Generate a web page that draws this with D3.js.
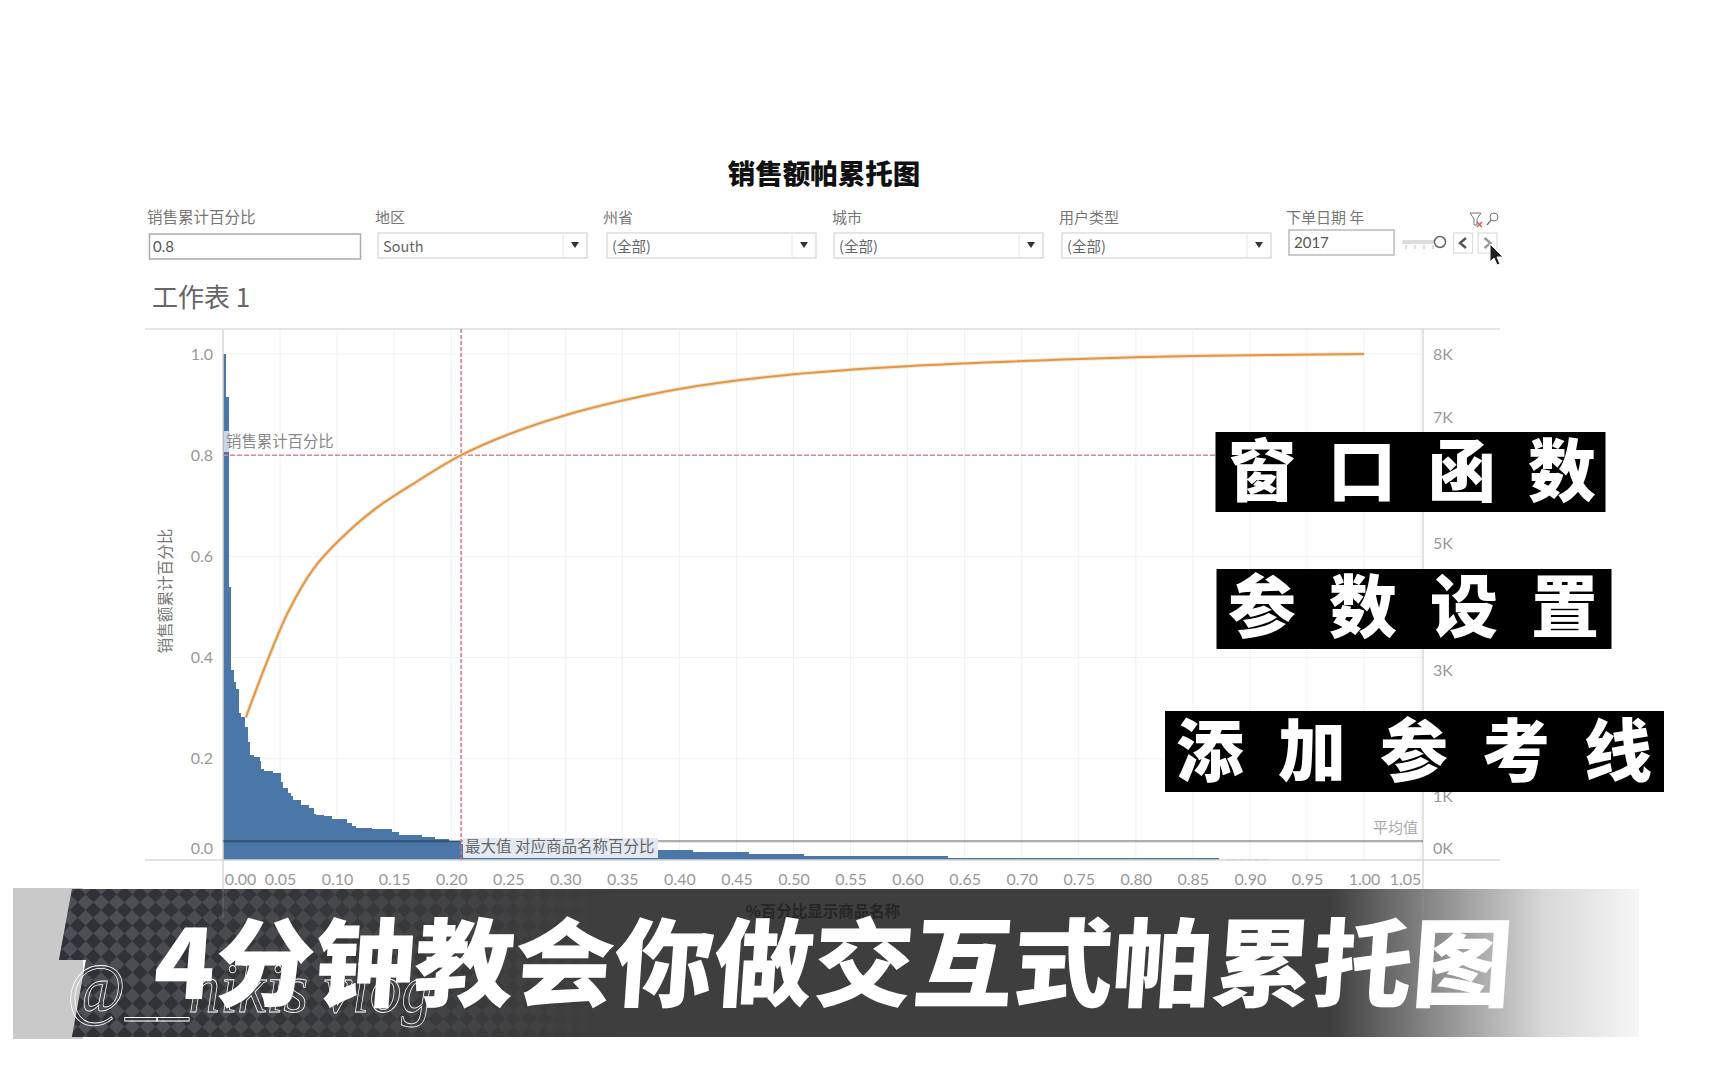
<!DOCTYPE html>
<html>
<head>
<meta charset="utf-8">
<script src="https://cdn.jsdelivr.net/npm/d3@7"></script>
<style>
	html, body { margin: 0; padding: 0; background: #fff; }
	svg { display: block; }
	text { font-family: "Noto Sans CJK SC", sans-serif; }
	.num { font-family: Lato, "Open Sans", sans-serif; }
	.axis .domain, .axis line { display: none; }
	.axis text { font-family: Lato, "Open Sans", sans-serif; font-size: 16px; fill: #999; }
</style>
</head>
<body>
<svg id="chart" width="1728" height="1080"></svg>
<script>
// right edge of each bar on the product share axis
const BAR_EDGES = [0.0023, 0.0049, 0.0073, 0.0093, 0.0116, 0.0137, 0.016, 0.0189, 0.0218, 0.0238,
	0.0276, 0.032, 0.0337, 0.0363, 0.0436, 0.0509, 0.0529, 0.0567, 0.0596, 0.0616,
	0.0683, 0.0756, 0.0799, 0.0814, 0.0887, 0.0959, 0.109, 0.1134, 0.1163, 0.1308,
	0.1483, 0.1541, 0.1744, 0.186, 0.1977, 0.2084, 0.25, 0.30, 0.35, 0.381,
	0.412, 0.461, 0.509, 0.635, 0.873];
const BAR_SALES = [8000, 7320, 4310, 3000, 2810, 2700, 2320, 2265, 2105, 1865,
	1665, 1630, 1570, 1440, 1400, 1370, 1230, 1145, 1065, 1010,
	945, 870, 815, 735, 705, 690, 650, 590, 535, 510,
	490, 440, 390, 360, 335, 305, 255, 225, 200, 175,
	160, 130, 95, 65, 30];
const TAIL_EDGES = [0.879, 0.884, 0.891, 0.897, 0.904, 0.911];

const CURVE_X = [0.0201, 0.0384, 0.0573, 0.0791, 0.10, 0.1328, 0.1706, 0.2087,
	0.25, 0.30, 0.35, 0.40, 0.50, 0.60, 0.75, 0.85, 1.0];
const CURVE_Y = [0.282, 0.391, 0.491, 0.575, 0.628, 0.693, 0.749, 0.8,
	0.841, 0.879, 0.908, 0.931, 0.96, 0.976, 0.99, 0.996, 1.0];

const X_TICKS = [0, 0.05, 0.10, 0.15, 0.20, 0.25, 0.30, 0.35, 0.40, 0.45, 0.50, 0.55, 0.60, 0.65, 0.70, 0.75, 0.80, 0.85, 0.90, 0.95, 1.00, 1.05];
const LEFT_TICKS = [0, 0.2, 0.4, 0.6, 0.8, 1.0];
const RIGHT_TICKS = [0, 1000, 2000, 3000, 4000, 5000, 6000, 7000, 8000];

const REF_X = 0.2087;
const REF_Y = 0.8;
const AVG_SALES = 300;

const FILTER_LABELS = ['地区', '州省', '城市', '用户类型'];
const FILTER_VALUES = ['South', '(全部)', '(全部)', '(全部)'];

const CAPTIONS = ['窗口函数', '参数设置', '添加参考线'];
const BANNER_TITLE = '4分钟教会你做交互式帕累托图';

const svg = d3.select('#chart');
const defs = svg.append('defs');

// plot geometry
const LEFT = 223, RIGHT = 1423, TOP = 329, BASE = 860;
const x = d3.scaleLinear().domain([0, 1]).range([LEFT, 1364]);
const yShare = d3.scaleLinear().domain([0, 1]).range([BASE, 354]);
const ySales = d3.scaleLinear().domain([0, 8000]).range([BASE, 354]);

function label(g, px, py, str, size, fill, anchor) {
	return g.append('text')
		.attr('x', px).attr('y', py)
		.attr('dy', '0.35em')
		.attr('text-anchor', anchor || 'start')
		.attr('font-size', size)
		.attr('fill', fill)
		.text(str);
}

function drawHeader() {
	const g = svg.append('g');
	label(g, 824, 174, '销售额帕累托图', 27.5, '#111', 'middle').attr('font-weight', 900);

	// parameter input
	label(g, 147, 218, '销售累计百分比', 15.5, '#777');
	g.append('rect').attr('x', 149.5).attr('y', 234).attr('width', 211).attr('height', 25)
		.attr('fill', '#fff').attr('stroke', '#aaa').attr('stroke-width', 1.5);
	label(g, 153, 247, '0.8', 15, '#555').attr('class', 'num');

	// dropdown filters
	const boxX = [378, 607, 834, 1062];
	const labelX = [375, 603, 832, 1059];
	FILTER_LABELS.forEach((name, i) => {
		const bx = boxX[i], w = 209;
		label(g, labelX[i], 218, name, 15, '#777');
		g.append('rect').attr('x', bx).attr('y', 233).attr('width', w).attr('height', 25)
			.attr('fill', '#fff').attr('stroke', '#ddd').attr('stroke-width', 1.5);
		g.append('line').attr('x1', bx + w - 24).attr('x2', bx + w - 24).attr('y1', 233).attr('y2', 258)
			.attr('stroke', '#e4e4e4');
		g.append('path').attr('transform', `translate(${bx + w - 12},245)`)
			.attr('d', 'M-4,-3L4,-3L0,3Z').attr('fill', '#333');
		label(g, bx + 5, 247, FILTER_VALUES[i], 14.5, '#666');
	});

	// year slider
	label(g, 1286, 218, '下单日期 年', 15, '#777');
	g.append('rect').attr('x', 1289).attr('y', 230).attr('width', 105).attr('height', 25)
		.attr('fill', '#fff').attr('stroke', '#bbb').attr('stroke-width', 1.5);
	label(g, 1294, 243, '2017', 15, '#555').attr('class', 'num');
	g.append('rect').attr('x', 1402).attr('y', 240).attr('width', 33).attr('height', 4).attr('fill', '#ddd');
	g.selectAll('.slider-tick').data([0, 1, 2, 3]).enter().append('line')
		.attr('x1', (d) => 1406 + d * 9).attr('x2', (d) => 1406 + d * 9)
		.attr('y1', 245).attr('y2', 249).attr('stroke', '#bbb');
	g.append('circle').attr('cx', 1440).attr('cy', 242).attr('r', 5.5)
		.attr('fill', '#fff').attr('stroke', '#666').attr('stroke-width', 1.5);

	[1453.5, 1478].forEach((bx, i) => {
		g.append('rect').attr('x', bx).attr('y', 233).attr('width', 19).attr('height', 20)
			.attr('fill', '#fff').attr('stroke', '#ddd').attr('stroke-width', 1.2);
		const d = i === 0 ? 'M3,-5L-3,0L3,5' : 'M-3,-5L3,0L-3,5';
		g.append('path').attr('transform', `translate(${bx + 9.5},243)`).attr('d', d)
			.attr('fill', 'none').attr('stroke', i === 0 ? '#555' : '#999').attr('stroke-width', 2.4);
	});

	// filter and search icons
	g.append('path').attr('d', 'M1470,213L1481,213L1477,219L1477,225L1474,225L1474,219Z')
		.attr('fill', 'none').attr('stroke', '#777');
	g.append('path').attr('d', 'M1477,222L1482,227M1482,222L1477,227').attr('stroke', '#d05050').attr('stroke-width', 1.2);
	g.append('circle').attr('cx', 1494).attr('cy', 217).attr('r', 4).attr('fill', 'none').attr('stroke', '#777');
	g.append('line').attr('x1', 1491).attr('y1', 220).attr('x2', 1487).attr('y2', 225).attr('stroke', '#777').attr('stroke-width', 1.3);

	// mouse cursor
	g.append('path').attr('transform', 'translate(1490,244)')
		.attr('d', 'M0,0L0,18L4,14L7,21L10,20L7,13L13,13Z')
		.attr('fill', '#222').attr('stroke', '#fff');

	label(g, 152, 298, '工作表 1', 26, '#666');
}

function drawPlot() {
	const g = svg.append('g');

	// grid
	g.selectAll('.vgrid').data(X_TICKS).enter().append('line')
		.attr('x1', (d) => x(d)).attr('x2', (d) => x(d))
		.attr('y1', TOP).attr('y2', BASE).attr('stroke', '#f1f1f1');
	g.selectAll('.hgrid').data(LEFT_TICKS).enter().append('line')
		.attr('x1', LEFT).attr('x2', RIGHT)
		.attr('y1', (d) => yShare(d)).attr('y2', (d) => yShare(d)).attr('stroke', '#f1f1f1');

	// bars
	const bars = BAR_SALES.map((s, i) => ({ x0: i === 0 ? 0 : BAR_EDGES[i - 1], x1: BAR_EDGES[i], sales: s }));
	g.selectAll('.bar').data(bars).enter().append('rect')
		.attr('x', (d) => x(d.x0))
		.attr('y', (d) => ySales(d.sales))
		.attr('width', (d) => x(d.x1) - x(d.x0))
		.attr('height', (d) => BASE - ySales(d.sales))
		.attr('fill', '#4a76a8')
		.attr('shape-rendering', 'crispEdges');
	g.selectAll('.tail').data(TAIL_EDGES).enter().append('rect')
		.attr('x', (d) => x(d))
		.attr('y', ySales(15))
		.attr('width', 5)
		.attr('height', BASE - ySales(15))
		.attr('fill', '#9db4cf');

	// frame
	g.append('line').attr('x1', 145).attr('x2', 1500).attr('y1', TOP).attr('y2', TOP).attr('stroke', '#ddd').attr('stroke-width', 1.5);
	g.append('line').attr('x1', 145).attr('x2', 1500).attr('y1', BASE).attr('y2', BASE).attr('stroke', '#d8d8d8').attr('stroke-width', 1.5);
	g.append('line').attr('x1', RIGHT).attr('x2', RIGHT).attr('y1', TOP).attr('y2', 889).attr('stroke', '#d8d8d8').attr('stroke-width', 1.5);
	g.append('line').attr('x1', LEFT).attr('x2', LEFT).attr('y1', TOP).attr('y2', 889).attr('stroke', '#d8d8d8').attr('stroke-width', 1.5);

	// average line, reads dark over the bars and grey over white
	g.append('line').attr('x1', LEFT).attr('x2', RIGHT)
		.attr('y1', ySales(AVG_SALES)).attr('y2', ySales(AVG_SALES))
		.attr('stroke', 'rgba(30,30,30,0.36)').attr('stroke-width', 2.2);
	label(g, 1418, 828, '平均值', 15, '#aaa', 'end');

	// reference lines
	g.append('line').attr('x1', x(REF_X)).attr('x2', x(REF_X)).attr('y1', TOP).attr('y2', BASE)
		.attr('stroke', '#d9707f').attr('stroke-width', 1.4).attr('stroke-dasharray', '4 2');
	g.append('line').attr('x1', LEFT).attr('x2', RIGHT).attr('y1', yShare(REF_Y)).attr('y2', yShare(REF_Y))
		.attr('stroke', '#d58a96').attr('stroke-width', 1.5).attr('stroke-dasharray', '5 2');

	// cumulative curve, with the soft halo of the source
	const pts = CURVE_X.map((v, i) => [v, CURVE_Y[i]]);
	const line = d3.line().x((d) => x(d[0])).y((d) => yShare(d[1])).curve(d3.curveCatmullRom.alpha(0.5));
	g.append('path').datum(pts).attr('d', line).attr('fill', 'none')
		.attr('stroke', '#f8e3c8').attr('stroke-width', 4);
	g.append('path').datum(pts).attr('d', line).attr('fill', 'none')
		.attr('stroke', '#e0964c').attr('stroke-width', 2);

	// reference labels
	g.append('rect').attr('x', LEFT + 1).attr('y', 431).attr('width', 112).attr('height', 21)
		.attr('fill', 'rgba(255,255,255,0.7)');
	label(g, 226, 442, '销售累计百分比', 15.4, '#888');
	g.append('rect').attr('x', 463).attr('y', 838).attr('width', 195).attr('height', 20)
		.attr('fill', '#e3e9f3');
	label(g, 465, 847, '最大值 对应商品名称百分比', 15.5, '#666');

	// axes
	const xAxis = d3.axisBottom(x).tickValues(X_TICKS).tickFormat(d3.format('.2f')).tickSize(0).tickPadding(0);
	const gx = g.append('g').attr('class', 'axis').attr('transform', `translate(0,871)`).call(xAxis);
	gx.selectAll('.tick text')
		.attr('dy', '0.9em')
		.attr('dx', (d) => d === 0 ? 17 : d === 1.05 ? -16 : 0);

	const yAxis = d3.axisLeft(yShare).tickValues(LEFT_TICKS).tickFormat(d3.format('.1f')).tickSize(0).tickPadding(10);
	g.append('g').attr('class', 'axis').attr('transform', `translate(${LEFT},0)`).call(yAxis)
		.selectAll('.tick text').attr('dy', (d) => d === 0 ? '-0.42em' : '0.32em');

	const rAxis = d3.axisRight(ySales).tickValues(RIGHT_TICKS).tickFormat((d) => (d / 1000) + 'K').tickSize(0).tickPadding(10);
	g.append('g').attr('class', 'axis').attr('transform', `translate(${RIGHT},0)`).call(rAxis)
		.selectAll('.tick text').attr('dy', (d) => d === 0 ? '-0.4em' : '0.32em');

	label(g, 0, 0, '销售额累计百分比', 15.6, '#777', 'middle').attr('transform', 'translate(166,591) rotate(-90)');
}

function drawCaptions() {
	const boxes = [
		{ x: 1215.5, y: 432, w: 390, h: 80, cx: 1262, step: 100, cy: 472 },
		{ x: 1216.5, y: 569, w: 395, h: 80, cx: 1262, step: 101, cy: 608 },
		{ x: 1165, y: 711, w: 499, h: 81, cx: 1210, step: 102, cy: 752 }
	];
	CAPTIONS.forEach((cap, i) => {
		const b = boxes[i];
		const g = svg.append('g');
		g.append('rect').attr('x', b.x).attr('y', b.y).attr('width', b.w).attr('height', b.h).attr('fill', '#000');
		Array.from(cap).forEach((ch, j) => {
			label(g, b.cx + j * b.step, b.cy, ch, 68, '#fff', 'middle').attr('font-weight', 900);
		});
	});
}

function drawBanner() {
	const fade = defs.append('linearGradient').attr('id', 'bannerFade')
		.attr('gradientUnits', 'userSpaceOnUse').attr('x1', 60).attr('x2', 1639).attr('y1', 0).attr('y2', 0);
	fade.append('stop').attr('offset', 0).attr('stop-color', '#3e3e3e');
	fade.append('stop').attr('offset', 0.805).attr('stop-color', '#3e3e3e');
	fade.append('stop').attr('offset', 0.87).attr('stop-color', '#8a8a8a');
	fade.append('stop').attr('offset', 0.94).attr('stop-color', '#d8d8d8');
	fade.append('stop').attr('offset', 1).attr('stop-color', '#f6f6f6');

	const pat = defs.append('pattern').attr('id', 'checks').attr('width', 22).attr('height', 22)
		.attr('patternUnits', 'userSpaceOnUse').attr('patternTransform', 'rotate(45)');
	pat.append('rect').attr('width', 22).attr('height', 22).attr('fill', '#585c66');
	pat.append('rect').attr('width', 11).attr('height', 11).attr('fill', '#262932');
	pat.append('rect').attr('x', 11).attr('y', 11).attr('width', 11).attr('height', 11).attr('fill', '#262932');

	const maskFade = defs.append('linearGradient').attr('id', 'checkFade')
		.attr('gradientUnits', 'userSpaceOnUse').attr('x1', 70).attr('x2', 620).attr('y1', 0).attr('y2', 0);
	maskFade.append('stop').attr('offset', 0).attr('stop-color', '#fff');
	maskFade.append('stop').attr('offset', 1).attr('stop-color', '#000');
	defs.append('mask').attr('id', 'checkMask').append('rect')
		.attr('x', 0).attr('y', 880).attr('width', 800).attr('height', 170).attr('fill', 'url(#checkFade)');

	const g = svg.append('g');
	const shape = 'M72,889L1639,889L1639,1037L72,1037L86,960L59,960Z';
	g.append('rect').attr('x', 13).attr('y', 888).attr('width', 70).attr('height', 151).attr('fill', '#c9c9c9');
	g.append('path').attr('d', shape).attr('fill', 'url(#bannerFade)');
	g.append('path').attr('d', shape).attr('fill', 'url(#checks)').attr('mask', 'url(#checkMask)').attr('opacity', 0.6);

	// sheet frame and axis title show through the banner
	[LEFT, RIGHT].forEach((px) => {
		g.append('line').attr('x1', px).attr('x2', px).attr('y1', 889).attr('y2', 918)
			.attr('stroke', 'rgba(150,150,150,0.3)').attr('stroke-width', 1.5);
	});
	label(g, 823, 912, '%百分比显示商品名称', 15.5, '#262626', 'middle').attr('font-weight', 700);

	g.append('text')
		.attr('transform', 'translate(152,999) skewX(-4)')
		.attr('textLength', 1358)
		.attr('lengthAdjust', 'spacingAndGlyphs')
		.attr('font-size', 96)
		.attr('font-weight', 900)
		.attr('fill', '#fff')
		.text(BANNER_TITLE);

	// watermark
	g.append('text')
		.attr('transform', 'translate(67,1012)')
		.attr('textLength', 366)
		.attr('lengthAdjust', 'spacingAndGlyphs')
		.attr('font-size', 70)
		.attr('font-style', 'italic')
		.style('font-family', '"Liberation Serif", serif')
		.attr('fill', 'none')
		.attr('stroke', '#fff')
		.attr('stroke-width', 0.8)
		.text('@__nikis vlog');
}

drawHeader();
drawPlot();
drawCaptions();
drawBanner();
</script>
</body>
</html>
